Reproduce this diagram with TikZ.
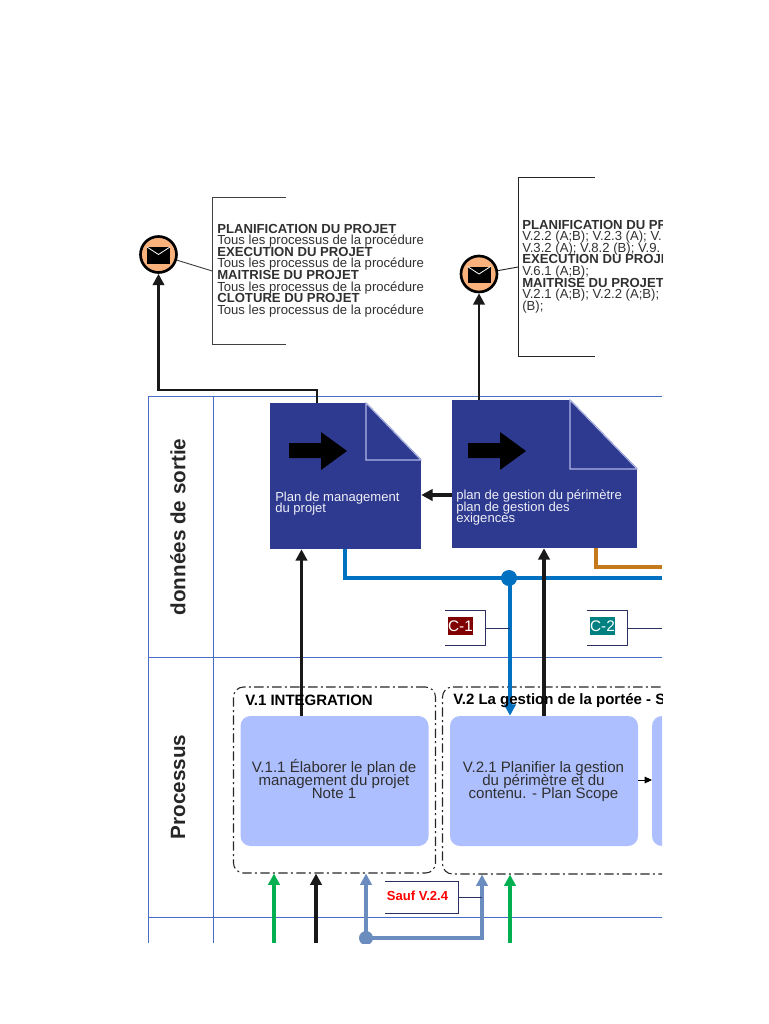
\documentclass[tikz,border=0pt]{standalone}
\usepackage{fontspec}
\setmainfont{Liberation Sans}
\usetikzlibrary{arrows.meta}
\definecolor{frameblue}{HTML}{4A6CC4}
\definecolor{docblue}{HTML}{2E3A90}
\definecolor{foldline}{HTML}{AEB6E4}
\definecolor{procblue}{HTML}{AEBFFF}
\definecolor{mailorange}{HTML}{F9B27B}
\definecolor{linkblue}{HTML}{0070C0}
\definecolor{steel}{HTML}{6A8CBE}
\definecolor{ochre}{HTML}{C47A1A}
\definecolor{greenin}{HTML}{00B050}
\definecolor{navyline}{HTML}{2A3060}
\definecolor{txtgrey}{HTML}{303030}
\lineskiplimit=-20pt
\tikzset{
tip/.style={-{Triangle[length=8.5pt,width=8.5pt]}},
heavy/.style={line width=2.5pt, draw=black!90, tip},
mail/.style={circle, draw=black, line width=2pt, fill=mailorange, minimum size=27pt, inner sep=0pt},
docbox/.style={rectangle, fill=docblue, inner sep=0pt},
doctxt/.style={anchor=west, align=left, inner sep=0pt, text=white!92!docblue, font=\fontsize{9.8}{8.6}\selectfont},
notetxt/.style={anchor=west, align=left, inner sep=0pt, text=txtgrey, font=\fontsize{9.85}{8.65}\selectfont},
proc/.style={rectangle, rounded corners=7.5pt, fill=procblue, minimum width=141pt, minimum height=97.5pt, inner sep=0pt},
proctxt/.style={align=center, inner sep=0pt, text=txtgrey, font=\fontsize{11.3}{9.8}\selectfont},
group/.style={rectangle, rounded corners=7.5pt, draw=black!85, line width=0.8pt, dash pattern=on 7pt off 2.5pt on 1.5pt off 2.5pt, inner sep=0pt},
gtitle/.style={anchor=west, inner sep=0pt, font=\fontsize{11.25}{13}\selectfont\bfseries},
lane/.style={rotate=90, inner sep=0pt, text=black!85, font=\fontsize{15.5}{17}\selectfont\bfseries},
tagbox/.style={rectangle, minimum width=30pt, minimum height=26.25pt, inner sep=0pt},
}
\begin{document}
\begin{tikzpicture}[x=0.75pt, y=-0.75pt]
\useasboundingbox (0,0) rectangle (768,1024);

\begin{scope}
\clip (0,0) rectangle (662,943);

% lanes
\draw[frameblue, line width=0.6pt]
(148.5,943) -- (148.5,396.5) -- (662,396.5)
(213,396.5) -- (213,943)
(148.5,657.5) -- (662,657.5)
(148.5,917.5) -- (662,917.5)
;
\node[lane] (out) at (178,527) {données de sortie};
\node[lane] (pro) at (178,787) {Processus};

% guides for the connectors
\coordinate (g1) at (301.5,0);
\coordinate (g2) at (317,0);
\coordinate (g3) at (345,0);
\coordinate (g4) at (510,0);
\coordinate (g5) at (544,0);
\coordinate (g6) at (596,0);
\coordinate (g7) at (479,0);
\coordinate (r1) at (662,578);
\coordinate (r2) at (662,567);
\coordinate (r3) at (662,628);
\coordinate (r4) at (652,780);

% documents
\node[docbox, minimum width=113.25pt, minimum height=109.5pt] (doc1) at (345.5,476) {};
\node[docbox, minimum width=138.75pt, minimum height=111pt] (doc2) at (544.5,474) {};

\fill[white] (366,402) -- (422,402) -- (422,460) -- cycle;
\draw[foldline, line width=0.8pt, fill=docblue] (366,403) -- (366,460) -- (421,460) -- cycle;
\fill[white] (570,399) -- (638,399) -- (638,469) -- cycle;
\draw[foldline, line width=0.8pt, fill=docblue] (570,400) -- (570,469) -- (637,469) -- cycle;

\foreach \x in {289,468} {
\fill[black] (\x,443) -- (\x+32,443) -- (\x+32,432) -- (\x+58,451) -- (\x+32,470) -- (\x+32,458) -- (\x,458) -- cycle;
}

\node[doctxt] (t1) at (275,503.5) {Plan de management\\du projet};
\node[doctxt] (t2) at (456,508) {plan de gestion du périmètre\\plan de gestion des\\exigences};

% notes
\node[mail] (m1) at (158.5,254.5) {};
\node[mail] (m2) at (479,274) {};
\foreach \m in {m1,m2} {
\fill[black] ([shift={(-11.5,-7.5)}]\m.center) rectangle ([shift={(11.5,9)}]\m.center);
\draw[white, line width=0.6pt] ([shift={(-11.5,-7.5)}]\m.center) -- ([shift={(0,0)}]\m.center) -- ([shift={(11.5,-7.5)}]\m.center);
}

\node[inner sep=0pt, minimum width=54.75pt, minimum height=109.5pt] (n1) at (249,271) {};
\node[inner sep=0pt, minimum width=57pt, minimum height=133.5pt] (n2) at (556.5,267) {};
\draw[black!75, line width=0.7pt] (n1.north east) -- (n1.north west) -- (n1.south west) -- (n1.south east);
\draw[black!85, line width=0.7pt] (n2.north east) -- (n2.north west) -- (n2.south west) -- (n2.south east);
\draw[black!75, line width=0.7pt] (m1) -- (n1.west);
\draw[black!85, line width=0.7pt] (m2) -- (n2.west);

\node[notetxt] (nt1) at (217,270.5) {\textbf{PLANIFICATION DU PROJET}\\Tous les processus de la procédure\\\textbf{EXECUTION DU PROJET}\\Tous les processus de la procédure\\\textbf{MAITRISE DU PROJET}\\Tous les processus de la procédure\\\textbf{CLOTURE DU PROJET}\\Tous les processus de la procédure};
\node[notetxt] (nt2) at (522,266.5) {\textbf{PLANIFICATION DU PROJET}\\V.2.2 (A;B); V.2.3 (A); V.\\V.3.2 (A); V.8.2 (B); V.9.\\\textbf{EXECUTION DU PROJET}\\V.6.1 (A;B);\\\textbf{MAITRISE DU PROJET}\\V.2.1 (A;B); V.2.2 (A;B);\\(B);};

% processes
\node[group, minimum width=151.5pt, minimum height=139.5pt] (gr1) at (334.5,780) {};
\node[group, minimum width=225pt, minimum height=140.25pt] (gr2) at (592.5,780.5) {};

\node[proc] (p1) at (334.5,781) {};
\node[proc] (p2) at (544,781) {};
\node[proc] (p3) at (746,781) {};

\node[proctxt] (pt1) at (334,779) {V.1.1 Élaborer le plan de\\management du projet\\Note 1};
\node[proctxt] (pt2) at (543.5,781.5) {V.2.1 Planifier la gestion\\du périmètre et du\\contenu. - Plan Scope};

% tags
\node[tagbox] (c1) at (465.5,628) {};
\node[tagbox] (c2) at (607,628) {};
\node[tagbox, minimum width=55pt, minimum height=24pt] (sf) at (421.75,897.5) {};
\draw[navyline, line width=0.6pt] (c1.north west) -- (c1.north east) -- (c1.south east) -- (c1.south west);
\draw[navyline, line width=0.6pt] (c2.north west) -- (c2.north east) -- (c2.south east) -- (c2.south west);
\draw[navyline, line width=0.6pt] (sf.north west) -- (sf.north east) -- (sf.south east) -- (sf.south west);
\node[fill=red!50!black, text=white, inner sep=0pt, minimum width=18.75pt, minimum height=13.5pt, font=\fontsize{11.5}{12}\selectfont] (c1l) at (460.5,626) {C-1};
\node[fill=teal, text=white, inner sep=0pt, minimum width=18.75pt, minimum height=13.5pt, font=\fontsize{11.5}{12}\selectfont] (c2l) at (602.5,626) {C-2};
\node[text=red, inner sep=0pt, font=\fontsize{9.8}{11}\selectfont\bfseries] (sfl) at (417.5,896) {Sauf V.2.4};

% output links
\draw[linkblue, line width=2.6pt] (g3 |- doc1.south) -- (g3 |- r1) -- (r1);
\draw[ochre, line width=2.4pt] (g6 |- doc2.south) -- (g6 |- r2) -- (r2);
\node[circle, fill=linkblue, minimum size=12pt, inner sep=0pt] (dot) at (509,578) {};
\draw[linkblue, line width=2.4pt, tip] (g4 |- dot.center) -- (g4 |- p2.north);
\draw[heavy] (g5 |- p2.north) -- (g5 |- doc2.south);
\draw[heavy] (g1 |- p1.north) -- (g1 |- doc1.south);
\draw[heavy] (doc2.west |- 0,495) -- (doc1.east |- 0,495);
\draw[heavy, line width=2.2pt] (g2 |- doc1.north) -- (g2 |- 0,390) -- (m1.center |- 0,390) -- (m1.south);
\draw[heavy, line width=2.2pt] (g7 |- doc2.north) -- (m2.south);
\draw[navyline, line width=0.6pt] (c1.east) -- (g4 |- c1.east);
\draw[navyline, line width=0.6pt] (c2.east) -- (r3);
\draw[black, line width=0.7pt, -{Triangle[length=5.5pt,width=5pt]}] (p2.east |- r4) -- (r4);

% inputs
\coordinate (b1) at (274,943);
\coordinate (b2) at (316,943);
\coordinate (b3) at (510,943);
\node[circle, fill=steel, minimum size=10.5pt, inner sep=0pt] (d2) at (366,938) {};
\coordinate (b4) at (482,938);
\draw[greenin, line width=2.6pt, tip] (b1) -- (b1 |- gr1.south);
\draw[heavy] (b2) -- (b2 |- gr1.south);
\draw[greenin, line width=2.6pt, tip] (b3) -- (b3 |- gr2.south);
\draw[steel, line width=3pt, tip] (d2.center) -- (d2.center |- gr1.south);
\draw[steel, line width=3pt, tip] (d2.center) -- (b4) -- (b4 |- gr2.south);
\draw[navyline, line width=0.6pt] (sf.east) -- (b4 |- sf.east);

% group titles, over the links
\node[gtitle] (g1t) at (245,700) {V.1 INTEGRATION};
\node[gtitle] (g2t) at (453,701) {V.2 La gestion de la portée - S};

\end{scope}
\end{tikzpicture}
\end{document}
